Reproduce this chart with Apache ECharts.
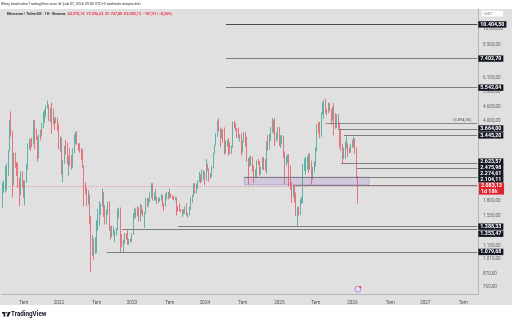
<!DOCTYPE html>
<html>
<head>
<meta charset="utf-8">
<script src="https://cdn.jsdelivr.net/npm/echarts@6/dist/echarts.min.js"></script>
<style>
html,body{margin:0;padding:0;background:#ffffff;}
#chart{width:512px;height:325px;}
</style>
</head>
<body>
<div id="chart"></div>
<script>
// ETH/USDT weekly candles, one entry per week starting Monday 2021-03-29
const firstWeek = '2021-03-29';
const weekCount = 339; // includes empty weeks to the right of the last candle

const opens = [
1690,2080,2135,2240,2310,2950,3900,3580,2250,2700,2630,2510,2240,1970,2300,2140,1900,2190,2560,3160,
3300,3240,3230,3930,3430,3330,2920,3420,3415,3850,4060,4290,4620,4640,4090,4290,4190,4050,3930,4040,
3830,3080,3350,2530,2600,3050,2870,2620,2620,2550,2520,2900,3300,3520,3140,3000,2920,2830,2520,2060,
1980,1790,1800,1450,1130,1200,1070,1170,1350,1550,1680,1700,1940,1580,1490,1570,1760,1340,1290,1290,
1290,1330,1360,1590,1620,1220,1140,1190,1280,1260,1190,1220,1200,1290,1550,1630,1640,1630,1510,1690,
1590,1560,1590,1790,1750,1800,1860,2090,1860,1870,1870,1800,1810,1830,1890,1750,1720,1870,1950,1870,
1920,1890,1870,1830,1850,1670,1650,1630,1620,1620,1590,1670,1560,1560,1660,1790,1890,2050,2010,2050,
2180,2240,2200,2270,2350,2220,2480,2460,2260,2290,2500,2880,3110,3490,3880,3650,3450,3640,3450,3150,
3150,3260,3120,2920,3070,3830,3780,3660,3560,3420,3430,3070,3250,3530,3270,2690,2610,2610,2740,2430,
2300,2400,2660,2650,2440,2470,2750,2510,2460,3190,3070,3360,3700,3990,3870,3290,3350,3650,3150,3300,
3310,2870,2630,2690,2810,2520,2030,1920,2080,1820,1570,1620,1590,1790,1840,2500,2500,2530,2530,2510,
2540,2230,2500,2540,2970,3750,3740,3490,4250,4480,4770,4390,4310,4610,4450,4040,4520,4150,3890,4150,
3890,3400,3090,2800,2990,3050,3110,2980,2950,3140,3120,3300,2950,2270.16
];
const highs = [
2150,2200,2550,2600,2980,4000,4380,3600,2900,2900,2650,2620,2260,2410,2410,2200,2200,2580,3180,3335,
3330,3370,4000,4030,3680,3400,3480,3640,3900,4370,4460,4650,4870,4680,4550,4780,4500,4100,4140,4100,
3880,3410,3370,2700,3100,3290,3200,2800,3040,2830,3030,3480,3580,3580,3180,3190,3030,3000,2560,2160,
2050,2000,1920,1540,1280,1230,1250,1480,1660,1790,1750,2030,1960,1720,1650,1780,1790,1400,1400,1390,
1340,1370,1660,1680,1680,1290,1220,1300,1300,1350,1230,1230,1300,1590,1680,1660,1700,1680,1740,1720,
1650,1600,1850,1850,1840,1950,2140,2140,1950,2020,1880,1850,1860,1920,1900,1760,1930,1960,1960,2030,
1930,1900,1880,1870,1860,1700,1750,1650,1650,1650,1700,1750,1590,1700,1860,1910,2140,2140,2130,2200,
2400,2340,2450,2440,2410,2720,2600,2480,2370,2540,2900,3130,3520,4000,4090,3730,3680,3660,3730,3280,
3290,3350,3220,3120,3950,3980,3890,3710,3720,3470,3520,3260,3560,3570,3400,2750,2790,2820,2780,2550,
2460,2680,2730,2670,2520,2770,2770,2720,3250,3450,3500,3750,4090,4010,4100,3550,3750,3750,3450,3450,
3440,2930,2800,2850,2860,2550,2160,2100,2110,1950,1690,1690,1830,1870,2590,2740,2790,2790,2880,2880,
2680,2520,2660,3060,3860,3940,3940,4330,4790,4890,4950,4490,4770,4770,4500,4590,4760,4300,4250,4260,
3920,3650,3170,3050,3240,3450,3180,3060,3150,3300,3400,3350,3050,2296.62
];
const lows = [
1680,1950,1950,2000,2300,2950,3400,1850,2100,2500,2300,2050,1700,1900,2050,1850,1720,2150,2450,3000,
2950,3060,3150,3000,3300,2650,2740,3280,3400,3700,3900,4150,4500,3980,3920,3500,3850,3640,3880,3600,
3000,2930,2330,2160,2590,2850,2580,2300,2540,2450,2500,2880,3170,3130,2950,2900,2700,2500,1700,1920,
1700,1730,1420,880,1040,1000,1060,1070,1330,1400,1560,1690,1530,1420,1420,1560,1330,1220,1250,1270,
1190,1270,1340,1510,1070,1130,1080,1170,1220,1160,1160,1190,1190,1280,1500,1520,1540,1460,1460,1570,
1540,1370,1580,1680,1700,1770,1850,1800,1800,1800,1740,1760,1780,1800,1700,1620,1700,1820,1820,1840,
1850,1820,1810,1800,1550,1610,1620,1600,1530,1570,1580,1550,1520,1550,1640,1760,1880,1930,1930,2020,
2160,2140,2170,2220,2100,2200,2420,2170,2230,2270,2480,2870,3100,3400,3570,3060,3350,3200,2850,2870,
3080,2810,2860,2860,3050,3700,3600,3360,3350,3240,2810,2900,3230,3090,2650,2110,2520,2550,2400,2150,
2250,2270,2560,2310,2330,2460,2440,2420,2350,2960,3000,3270,3550,3500,3100,3230,3300,3100,3040,3150,
2750,2120,2550,2620,2080,2000,1760,1860,1770,1540,1385,1540,1560,1740,1760,2420,2330,2450,2380,2440,
2110,2210,2380,2520,2940,3500,3350,3400,4240,4060,4290,4200,4290,4380,3820,3990,3440,3680,3700,3680,
3050,2950,2620,2720,2720,3020,2780,2880,2900,3050,3050,2870,2240,1747.80
];
const closes = [
2080,2135,2240,2310,2950,3900,3580,2250,2700,2630,2510,2240,1970,2300,2140,1900,2190,2560,3160,3300,
3240,3230,3930,3430,3330,2920,3420,3415,3850,4060,4290,4620,4640,4090,4290,4190,4050,3930,4040,3830,
3080,3350,2530,2600,3050,2870,2620,2620,2550,2520,2900,3300,3520,3140,3000,2920,2830,2520,2060,1980,
1790,1800,1450,1130,1200,1070,1170,1350,1550,1680,1700,1940,1580,1490,1570,1760,1340,1290,1290,1290,
1330,1360,1590,1620,1220,1140,1190,1280,1260,1190,1220,1200,1290,1550,1630,1640,1630,1510,1690,1590,
1560,1590,1790,1750,1800,1860,2090,1860,1870,1870,1800,1810,1830,1890,1750,1720,1870,1950,1870,1920,
1890,1870,1830,1850,1670,1650,1630,1620,1620,1590,1670,1560,1560,1660,1790,1890,2050,2010,2050,2180,
2240,2200,2270,2350,2220,2480,2460,2260,2290,2500,2880,3110,3490,3880,3650,3450,3640,3450,3150,3150,
3260,3120,2920,3070,3830,3780,3660,3560,3420,3430,3070,3250,3530,3270,2690,2610,2610,2740,2430,2300,
2400,2660,2650,2440,2470,2750,2510,2460,3190,3070,3360,3700,3990,3870,3290,3350,3650,3150,3300,3310,
2870,2630,2690,2810,2520,2030,1920,2080,1820,1570,1620,1590,1790,1840,2500,2500,2530,2530,2510,2540,
2230,2500,2540,2970,3750,3740,3490,4250,4480,4770,4390,4310,4610,4450,4040,4520,4150,3890,4150,3890,
3400,3090,2800,2990,3050,3110,2980,2950,3140,3120,3300,2950,2270,2083.12
];

// Horizontal rays drawn on the chart, with the week each one starts from
const rayLevels = [10404.50, 7402.70, 5542.04, 3664.00, 3445.20, 2623.57, 2475.98, 2274.61, 2104.11, 1388.33, 1353.47, 1079.68];
const rayStarts = ['2024-04-15','2024-04-15','2024-04-15','2025-10-27','2025-11-24','2025-11-10','2026-01-26','2024-07-15','2025-03-24','2023-08-21','2022-11-14','2022-08-29'];
const noteLevel = 3894.05;
const noteStart = '2025-08-25';
const zoneBounds = [2104.11, 2274.61];
const zoneWeeks = ['2024-07-15', '2026-03-30'];
const lastPrice = 2083.12;
const countdown = '1d 18h';
const priceTicks = [760, 870, 1010, 1150, 1550, 1800, 4000, 4600, 5300, 6100, 8500, 10000];
const legendValues = ['A2.270,16', 'Y2.296,62', 'D1.747,80', 'K2.083,12', '−187,01 (−8,24%)'];

const dates = [];
const t0 = Date.parse(firstWeek + 'T00:00:00Z');
for (let i = 0; i < weekCount; i++) {
  dates.push(new Date(t0 + i * 7 * 86400000).toISOString().slice(0, 10));
}
const lastDate = dates[dates.length - 1];

function fmt(v) {
  const s = (Math.round(v * 100) / 100).toFixed(2);
  let [i, d] = s.split('.');
  i = i.replace(/\B(?=(\d{3})+(?!\d))/g, '.');
  return i + ',' + d;
}
function isTimeLabel(v) {
  const m = v.slice(5, 7), day = +v.slice(8, 10);
  return (m === '01' && day <= 7) || (m === '07' && day >= 7 && day <= 13);
}

const FONT = 'Roboto';
const candleData = opens.map((o, i) => [o, closes[i], lows[i], highs[i]]);

// Vertical nudges that keep the stacked price boxes from overlapping
const boxNudge = {3664: -0.7, 2623.57: -1.1, 2475.98: -1.3, 2274.61: -3.7, 2104.11: -5.6, 1353.47: 4.5};

const boxLabel = (text, dy, bg) => ({
  show: true, position: 'end', distance: 1, formatter: text,
  backgroundColor: bg || '#131722', color: '#ffffff', fontWeight: 'bold',
  fontFamily: FONT, fontSize: 5.3, lineHeight: 5.6, padding: [0.6, 2, 0.2, 2],
  offset: [0, dy || 0]
});

const markLines = rayLevels.map((lv, i) => [
  { coord: [rayStarts[i], lv],
    lineStyle: { color: i === 0 ? '#4a4a4a' : '#7d7d7d', width: 1, type: 'solid' },
    label: boxLabel(fmt(lv), boxNudge[lv]) },
  { coord: [lastDate, lv] }
]);
markLines.push([
  { coord: [noteStart, noteLevel],
    lineStyle: { color: '#8a8a8a', width: 1, type: 'solid' },
    label: { show: true, position: 'insideEndTop', distance: [6, 1.5], formatter: '(' + fmt(noteLevel) + ')',
             color: '#555', fontFamily: FONT, fontSize: 4 } },
  { coord: [lastDate, noteLevel] }
]);
markLines.push({
  yAxis: lastPrice,
  lineStyle: { color: 'rgba(242,54,69,0.4)', width: 1, type: 'dotted' },
  label: boxLabel(fmt(lastPrice) + '\n' + countdown, 2.7, '#e0242f')
});

const option = {
  backgroundColor: '#e0e0e0',
  animation: false,
  textStyle: { fontFamily: FONT },
  title: [
    { text: 'Kilrey tarafından TradingView.com ile Şub 07, 2026 09:00 UTC+3 tarihinde oluşturuldu',
      left: 1, top: 2, padding: 0,
      textStyle: { fontSize: 3.7, color: '#333', fontWeight: 'normal', fontFamily: FONT } },
    { text: '{n|Ethereum / TetherUS · 1H · Binance}  {v|' + legendValues.join('  ') + '}',
      left: 7, top: 12, padding: 0,
      textStyle: { fontSize: 3.7, fontFamily: FONT,
        rich: { n: { color: '#333', fontSize: 3.7, fontFamily: FONT }, v: { color: '#f23645', fontSize: 3.7, fontFamily: FONT } } } }
  ],
  graphic: [
    { type: 'rect', z: -1, shape: { x: 0, y: 0, width: 512, height: 9 }, style: { fill: '#ffffff' } },
    { type: 'rect', z: -1, shape: { x: 0, y: 305, width: 512, height: 20 }, style: { fill: '#ffffff' } },
    { type: 'text', left: 481, top: 10, z: 10,
      style: { text: 'USDT', fill: '#777', fontSize: 3.6, fontFamily: FONT,
               backgroundColor: '#ffffff', padding: [1.2, 11, 1, 2], borderColor: '#cfcfcf', borderWidth: 0.5 } },
    { type: 'group', left: 2, top: 312, children: [
      { type: 'rect', shape: { x: 0, y: 0, width: 3.2, height: 1.6 }, style: { fill: '#131722' } },
      { type: 'rect', shape: { x: 1.6, y: 0, width: 1.6, height: 4.6 }, style: { fill: '#131722' } },
      { type: 'circle', shape: { cx: 4.8, cy: 0.8, r: 0.8 }, style: { fill: '#131722' } },
      { type: 'polygon', shape: { points: [[6.4, 0], [8.6, 0], [6.6, 4.6], [4.4, 4.6]] }, style: { fill: '#131722' } }
    ] },
    { type: 'text', left: 11, top: 311.5,
      style: { text: 'TradingView', fill: '#131722', fontSize: 6.3, fontWeight: 'bold', fontFamily: FONT } }
  ],
  grid: { left: 2, right: 34, top: 9, bottom: 31 },
  xAxis: {
    type: 'category', data: dates, boundaryGap: true,
    axisLine: { show: true, lineStyle: { color: '#b5b5b5', width: 1 } },
    axisTick: { show: false },
    splitLine: { show: false },
    axisLabel: {
      interval: (idx, v) => isTimeLabel(v),
      formatter: v => v.slice(5, 7) === '01' ? v.slice(0, 4) : 'Tem',
      color: '#555', fontSize: 4.6, margin: 6, fontFamily: FONT, hideOverlap: false
    }
  },
  yAxis: {
    type: 'log', logBase: 10, position: 'right',
    min: 710, max: 12130,
    axisLine: { show: true, lineStyle: { color: '#b5b5b5', width: 1 } },
    axisTick: { show: false },
    splitLine: { show: false },
    axisLabel: {
      customValues: priceTicks,
      formatter: v => fmt(v),
      color: '#666', fontSize: 4.6, margin: 5, fontFamily: FONT, align: 'left',
      showMinLabel: true, showMaxLabel: true
    }
  },
  series: [{
    type: 'candlestick',
    data: candleData,
    clip: false,
    barWidth: 0.4,
    itemStyle: { color: '#2a9d8a', color0: '#ea4452', borderColor: '#2a9d8a', borderColor0: '#ea4452', borderWidth: 0.7 },
    markLine: { silent: true, symbol: ['none', 'none'], animation: false, data: markLines, z: 5 },
    markArea: {
      silent: true,
      itemStyle: { color: 'rgba(150,120,215,0.22)', borderColor: 'rgba(120,95,190,0.5)', borderWidth: 0.6 },
      data: [[{ coord: [zoneWeeks[0], zoneBounds[1]] }, { coord: [zoneWeeks[1], zoneBounds[0]] }]]
    },
    markPoint: {
      silent: true,
      data: [
        { coord: [dates[opens.length - 1], 745], symbol: 'circle', symbolSize: 6,
          itemStyle: { color: '#eadff4', borderColor: '#b36ad6', borderWidth: 0.8 }, label: { show: false } },
        { coord: [dates[opens.length - 1], 760], symbol: 'circle', symbolSize: 2, symbolOffset: [2.3, 0],
          itemStyle: { color: '#f23645' }, label: { show: false } }
      ]
    }
  }]
};

const chart = echarts.init(document.getElementById('chart'), null, { renderer: 'canvas' });
chart.setOption(option);
</script>
</body>
</html>
